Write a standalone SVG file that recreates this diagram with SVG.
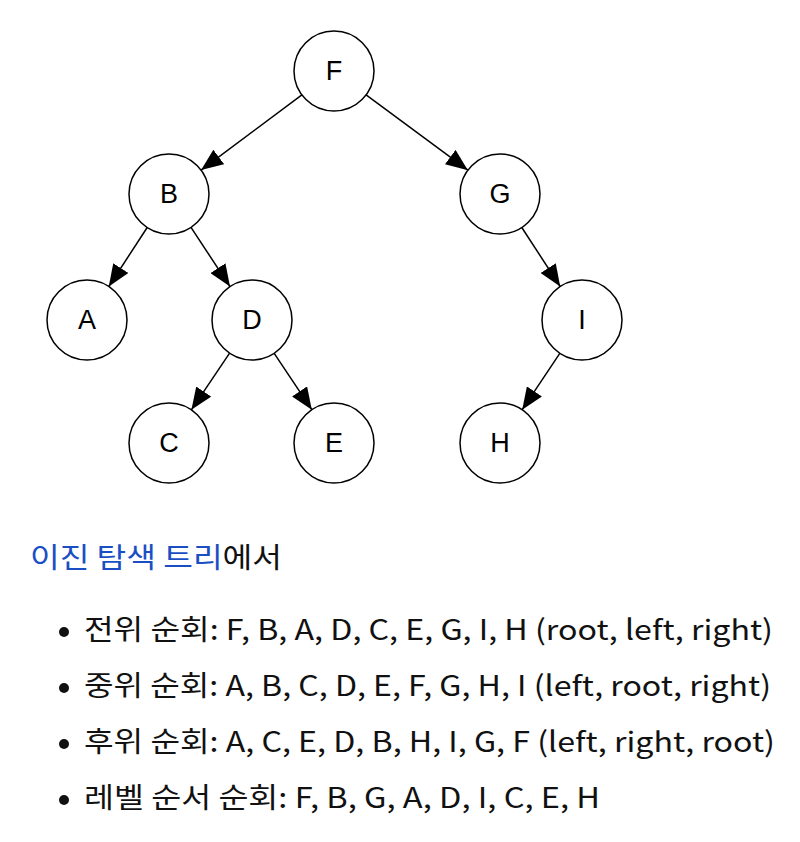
<svg xmlns="http://www.w3.org/2000/svg" width="800" height="842" viewBox="0 0 800 842">
<style>
.n circle{fill:#fff;stroke:#000;stroke-width:1.5}
.n text{font-family:"Liberation Sans","Noto Sans",sans-serif;font-size:27px;text-anchor:middle;dominant-baseline:central}
.e line{stroke:#000;stroke-width:1.5;marker-end:url(#ah)}
.t{font-family:"Noto Sans CJK KR","Noto Sans",sans-serif;font-size:28px;fill:#111}
</style>
<defs><marker id="ah" markerUnits="userSpaceOnUse" markerWidth="24" markerHeight="18" refX="22" refY="9" orient="auto"><path d="M0,0 L22,9 L0,18 Z" fill="#000"/></marker></defs>
<rect width="800" height="842" fill="#fff"/>
<g id="connectors" class="e">
<line x1="301.9" y1="94.9" x2="201.1" y2="170.1"/>
<line x1="366.1" y1="94.8" x2="467.9" y2="170.2"/>
<line x1="147.2" y1="227.5" x2="108.8" y2="286.5"/>
<line x1="191" y1="227.4" x2="230" y2="286.6"/>
<line x1="521.8" y1="227.5" x2="560.2" y2="286.5"/>
<line x1="229.6" y1="353.2" x2="191.4" y2="409.8"/>
<line x1="274.2" y1="353.3" x2="311.8" y2="409.7"/>
<line x1="559.8" y1="353.3" x2="522.2" y2="409.7"/>
</g>
<g id="F" class="n"><circle cx="334" cy="71" r="40"/><text x="334" y="71">F</text></g>
<g id="B" class="n"><circle cx="169" cy="194" r="40"/><text x="169" y="194">B</text></g>
<g id="G" class="n"><circle cx="500" cy="194" r="40"/><text x="500" y="194">G</text></g>
<g id="A" class="n"><circle cx="87" cy="320" r="40"/><text x="87" y="320">A</text></g>
<g id="D" class="n"><circle cx="252" cy="320" r="40"/><text x="252" y="320">D</text></g>
<g id="I" class="n"><circle cx="582" cy="320" r="40"/><text x="582" y="320">I</text></g>
<g id="C" class="n"><circle cx="169" cy="443" r="40"/><text x="169" y="443">C</text></g>
<g id="E" class="n"><circle cx="334" cy="443" r="40"/><text x="334" y="443">E</text></g>
<g id="H" class="n"><circle cx="500" cy="443" r="40"/><text x="500" y="443">H</text></g>
<text class="t" x="30" y="568" textLength="252" lengthAdjust="spacingAndGlyphs"><tspan fill="#1a4fc4">이진 탐색 트리</tspan>에서</text>
<circle cx="64" cy="632" r="5" fill="#111"/><text class="t" x="84" y="640" textLength="689" lengthAdjust="spacingAndGlyphs">전위 순회: F, B, A, D, C, E, G, I, H (root, left, right)</text>
<circle cx="64" cy="688" r="5" fill="#111"/><text class="t" x="84" y="696" textLength="687" lengthAdjust="spacingAndGlyphs">중위 순회: A, B, C, D, E, F, G, H, I (left, root, right)</text>
<circle cx="64" cy="744" r="5" fill="#111"/><text class="t" x="84" y="752" textLength="691" lengthAdjust="spacingAndGlyphs">후위 순회: A, C, E, D, B, H, I, G, F (left, right, root)</text>
<circle cx="64" cy="800" r="5" fill="#111"/><text class="t" x="84" y="808" textLength="516" lengthAdjust="spacingAndGlyphs">레벨 순서 순회: F, B, G, A, D, I, C, E, H</text>
</svg>
